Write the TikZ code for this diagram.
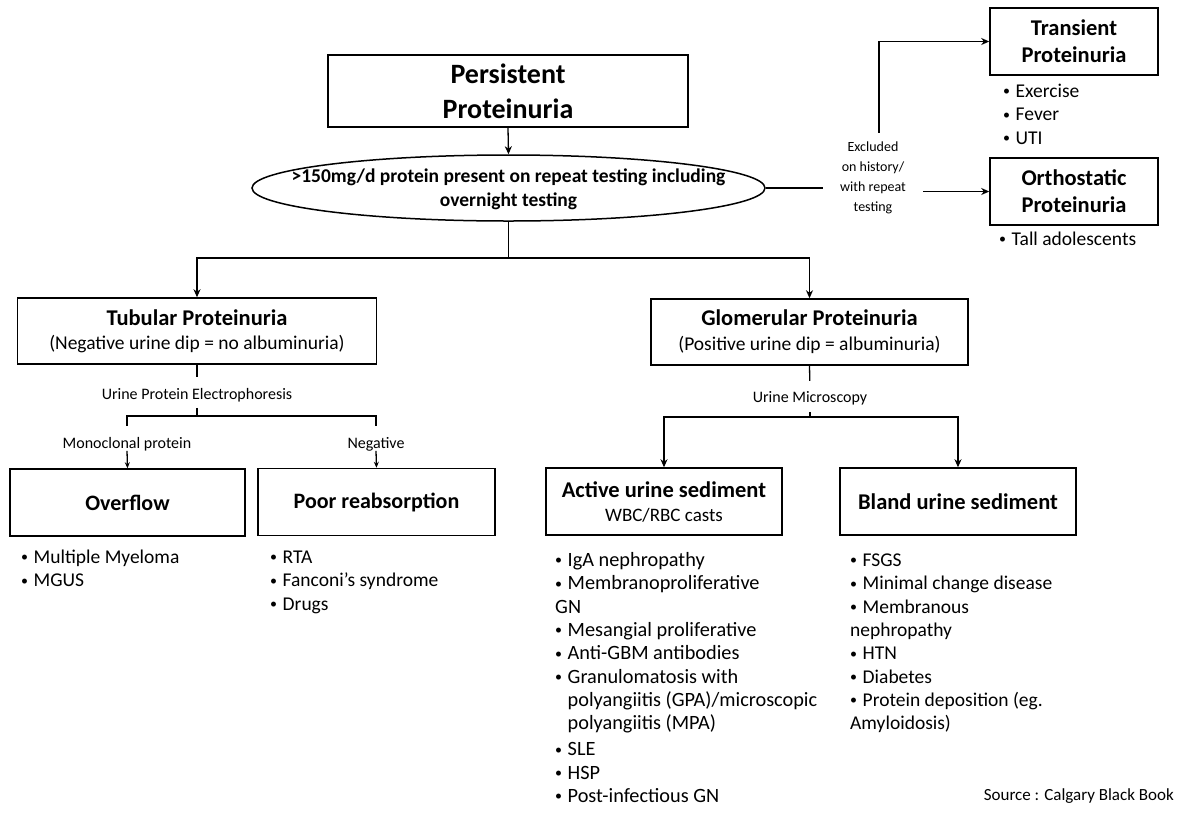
\documentclass[tikz,border=0pt]{standalone}
\usepackage{fontspec}
\setmainfont{Carlito}
\usetikzlibrary{shapes.geometric,arrows.meta}
\newcommand\bu{\makebox[12.5pt][l]{\raisebox{1.6pt}{\fontsize{14}{14}\selectfont•}}}
\newcommand\ind{\hspace*{12.5pt}}
\begin{document}
\begin{tikzpicture}[x=1pt,y=-1pt,
  box/.style={draw, line width=1.5pt, align=center, inner sep=0pt},
  conn/.style={line width=1.3pt},
  arr/.style={conn, -{Stealth[length=8pt,width=7pt,inset=2.5pt]}},
  sarr/.style={conn, -{Stealth[length=6pt,width=5pt,inset=2pt]}},
  lbl/.style={inner sep=0pt, align=center},
  lst/.style={anchor=north west, inner sep=0pt, align=left, font=\fontsize{19.5}{23.3}\selectfont},
]
\useasboundingbox (0,0) rectangle (1200,815);

% main boxes
\node[box, minimum width=360pt, minimum height=72pt, font=\fontsize{28}{35}\selectfont\bfseries] (pers) at (508,91) {Persistent\\Proteinuria};
\node[draw, line width=1.5pt, ellipse, inner sep=0pt, minimum width=513pt, minimum height=66pt] (ell) at (508.5,188) {};
\node[lbl, font=\fontsize{19.5}{24}\selectfont\bfseries] (elltext) at (508.5,189) {>150mg/d protein present on repeat testing including\\overnight testing};

\node[box, minimum width=168pt, minimum height=67pt, font=\fontsize{22.5}{27}\selectfont\bfseries] (trans) at (1074,41.5) {Transient\\Proteinuria};
\node[box, minimum width=168pt, minimum height=67pt, font=\fontsize{22.5}{27}\selectfont\bfseries] (orth) at (1074,191.5) {Orthostatic\\Proteinuria};
\node[lbl, inner xsep=17pt, inner ysep=9pt, font=\fontsize{14}{20}\selectfont] (excl) at (873,178) {Excluded\\on history/\\with repeat\\testing};

\node[box, minimum width=359pt, minimum height=66pt, font=\fontsize{19.5}{24}\selectfont] (tub) at (197,331) {{\fontsize{22.5}{24}\selectfont\bfseries Tubular Proteinuria}\\(Negative urine dip = no albuminuria)};
\node[box, minimum width=317pt, minimum height=66pt, font=\fontsize{19.5}{25}\selectfont] (glom) at (809.5,332) {{\fontsize{22.5}{25}\selectfont\bfseries Glomerular Proteinuria}\\(Positive urine dip = albuminuria)};

\node[lbl, anchor=base, font=\fontsize{16}{19}\selectfont] (upe) at (197,399) {Urine Protein Electrophoresis};
\node[lbl, anchor=base, font=\fontsize{16}{19}\selectfont] (um) at (810,402) {Urine Microscopy};
\node[lbl, anchor=base, font=\fontsize{16}{19}\selectfont] (mono) at (127,448) {Monoclonal protein};
\node[lbl, anchor=base, font=\fontsize{16}{19}\selectfont] (neg) at (376,448) {Negative};

\node[box, minimum width=235pt, minimum height=67pt, font=\fontsize{22}{26}\selectfont\bfseries] (over) at (127.5,502.5) {Overflow};
\node[box, minimum width=237pt, minimum height=67pt, font=\fontsize{22}{26}\selectfont\bfseries] (poor) at (376.5,502) {Poor reabsorption};
\node[box, minimum width=236pt, minimum height=67pt, font=\fontsize{19}{24}\selectfont] (act) at (664,501.5) {{\fontsize{22.5}{24}\selectfont\bfseries Active urine sediment}\\WBC/RBC casts};
\node[box, minimum width=236pt, minimum height=67pt, font=\fontsize{22.5}{26}\selectfont\bfseries] (bland) at (958,501.5) {Bland urine sediment};

% lists
\node[lst] (ltrans) at (1003,81) {\strut\bu Exercise\\\bu Fever\\\bu UTI};
\node[lst] (lorth) at (999,229) {\strut\bu Tall adolescents};
\node[lst] (lover) at (21,547) {\strut\bu Multiple Myeloma\\\bu MGUS};
\node[lst] (lpoor) at (270,547) {\strut\bu RTA\\\bu Fanconi’s syndrome\\\bu Drugs};
\node[lst, font=\fontsize{20.3}{23.3}\selectfont] (lact) at (555,550) {\strut\bu IgA nephropathy\\\bu Membranoproliferative\\GN\\\bu Mesangial proliferative\\\bu Anti-GBM antibodies\\\bu Granulomatosis with\\\ind polyangiitis (GPA)/microscopic\\\ind polyangiitis (MPA)\\[3pt]\bu SLE\\\bu HSP\\\bu Post-infectious GN};
\node[lst] (lbland) at (850,550) {\strut\bu FSGS\\\bu Minimal change disease\\\bu Membranous\\nephropathy\\\bu HTN\\\bu Diabetes\\\bu Protein deposition (eg.\\Amyloidosis)};

\node[anchor=base east, inner sep=0pt, font=\fontsize{17}{20}\selectfont] (src) at (1174,800) {Source : Calgary Black Book};

% connectors
\draw[arr] (pers.south) -- (ell.north);
\draw[conn] (ell.east) -- (excl.west |- ell.east);
\draw[arr] (excl.east |- orth.west) -- (orth.west);
\draw[arr] ([xshift=6pt]excl.north) |- (trans.west);

\coordinate (j1) at (508.5,258);
\draw[conn] (ell.south) -- (j1);
\draw[arr] (j1) -| (tub.north);
\draw[arr] (j1) -| (glom.north);

\coordinate (j2) at (197,416);
\draw[conn, shorten >=11pt] (tub.south) -- (upe.north);
\draw[conn, shorten <=6pt] (upe.south) -- (j2);
\draw[conn, shorten >=11pt] (j2) -| (mono.north);
\draw[conn, shorten >=11pt] (j2) -| (neg.north);
\draw[sarr] (mono.south) -- (over.north);
\draw[sarr] (neg.south) -- (poor.north);

\coordinate (j3) at (810,417);
\draw[conn, shorten >=10pt] (glom.south) -- (um.north);
\draw[conn, shorten <=7pt] (um.south) -- (j3);
\draw[arr] (j3) -| (act.north);
\draw[arr] (j3) -| (bland.north);
\end{tikzpicture}
\end{document}
